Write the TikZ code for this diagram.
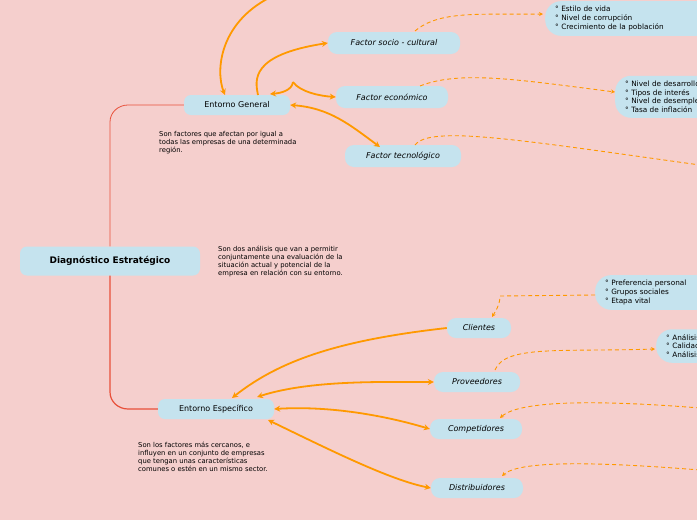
\documentclass[tikz,border=0pt]{standalone}
\usepackage{fontspec}
\setmainfont{DejaVu Sans}
\usetikzlibrary{arrows.meta}
\definecolor{bg}{HTML}{F5CFCD}
\definecolor{nb}{HTML}{C5E3EE}
\definecolor{or}{HTML}{FF9900}
\definecolor{rl}{HTML}{E8503A}
\tikzset{
 box/.style={fill=nb,rounded corners=7pt,inner sep=0pt,font=\fontsize{8}{9}\selectfont},
 sub/.style={box,font=\fontsize{8}{9}\selectfont\itshape,rounded corners=9pt},
 lst/.style={fill=nb,rounded corners=16pt,align=left,inner xsep=10pt,inner ysep=5pt,font=\fontsize{7.3}{8.8}\selectfont,anchor=south west,text width=160pt},
 note/.style={align=left,anchor=north west,inner sep=0pt,font=\fontsize{6.8}{8.1}\selectfont},
 arr/.style={or,line width=1.8pt,-{Stealth[length=6pt,width=6pt]}},
 arrb/.style={or,line width=1.8pt,{Stealth[length=6pt,width=6pt]}-{Stealth[length=6pt,width=6pt]}},
 dsh/.style={or,line width=0.9pt,dash pattern=on 4pt off 3pt,-{Stealth[length=4pt,width=4pt]}},
 dshn/.style={or,line width=0.9pt,dash pattern=on 4pt off 3pt},
}
\begin{document}
\begin{tikzpicture}[x=1pt,y=-1pt]
\fill[bg] (0,0) rectangle (697,520);
\clip (0,0) rectangle (697,520);
\node[box,minimum width=180pt,minimum height=29pt,font=\fontsize{9}{10}\selectfont\bfseries] (d) at (110,261) {Diagnóstico Estratégico};
\node[box,minimum width=106pt,minimum height=20pt] (g) at (237,105) {Entorno General};
\node[box,minimum width=116pt,minimum height=20pt] (e) at (216,409) {Entorno Específico};
\node[sub,minimum width=132pt,minimum height=22pt] (s) at (394,43) {Factor socio - cultural};
\node[sub,minimum width=112pt,minimum height=22pt] (ec) at (392,97) {Factor económico};
\node[sub,minimum width=116pt,minimum height=22pt] (t) at (403,156) {Factor tecnológico};
\node[sub,minimum width=64pt,minimum height=20pt] (c) at (479,328) {Clientes};
\node[sub,minimum width=86pt,minimum height=20pt] (p) at (477,382) {Proveedores};
\node[sub,minimum width=92pt,minimum height=20pt] (co) at (476,429) {Competidores};
\node[sub,minimum width=92pt,minimum height=20pt] (di) at (477,488) {Distribuidores};
\node[lst] (l1) at (545,36) {° Estilo de vida\\° Nivel de corrupción\\° Crecimiento de la población};
\node[lst] (l2) at (615,118) {° Nivel de desarrollo\\° Tipos de interés\\° Nivel de desempleo\\° Tasa de inflación};
\node[lst] (l3) at (595,310) {° Preferencia personal\\° Grupos sociales\\° Etapa vital};
\node[lst] (l4) at (656,363) {° Análisis\\° Calidad\\° Análisis};
\node[note] (n1) at (159,131) {Son factores que afectan por igual a\\todas las empresas de una determinada\\región.};
\node[note] (n2) at (218,246) {Son dos análisis que van a permitir\\conjuntamente una evaluación de la\\situación actual y potencial de la\\empresa en relación con su entorno.};
\node[note] (n3) at (138,442) {Son los factores más cercanos, e\\influyen en un conjunto de empresas\\que tengan unas características\\comunes o estén en un mismo sector.};
% red branches
\draw[rl,line width=0.8pt] (d.north) -- (110,122) to[out=90,in=180] (128,105) -- (g.west);
\draw[rl,line width=1.2pt] (d.south) -- (110,392) to[out=-90,in=180] (128,409) -- (e.west);
% orange general
\coordinate (top) at (275,-5);
\draw[arr] (top) .. controls (220,20) and (215,70) .. (225,95);
\draw[arr] (258,95) .. controls (255,80) and (250,55) .. (s.west);
\coordinate (j) at (293,82);
\draw[arr] (j) .. controls (292,90) and (282,93) .. (270,94);
\draw[arr] (j) .. controls (300,92) and (320,96) .. (ec.west);
\draw[arrb] (g.east) .. controls (330,108) and (350,125) .. (380,147);
% orange specific
\draw[arr] (c.west) .. controls (340,340) and (280,360) .. (232,398);
\draw[arrb] (257,397) .. controls (310,380) and (380,382) .. (p.west);
\draw[arrb] (e.east) .. controls (340,405) and (400,420) .. (co.west);
\draw[arrb] (268,420) .. controls (330,450) and (390,480) .. (di.west);
% dashed
\draw[dsh] (415,31) .. controls (440,10) and (480,15) .. (543,14);
\draw[dsh] (420,86) .. controls (460,70) and (520,80) .. (615,92);
\draw[dshn] (415,145) .. controls (430,125) and (520,140) .. (700,165);
\draw[dsh] (595,295) -- (500,296) .. controls (500,305) and (495,312) .. (492,317);
\draw[dsh] (495,370) .. controls (505,345) and (560,352) .. (655,349);
\draw[dsh] (700,408) .. controls (600,400) and (520,400) .. (500,418);
\draw[dsh] (700,470) .. controls (600,462) and (520,460) .. (502,476);
\end{tikzpicture}
\end{document}
